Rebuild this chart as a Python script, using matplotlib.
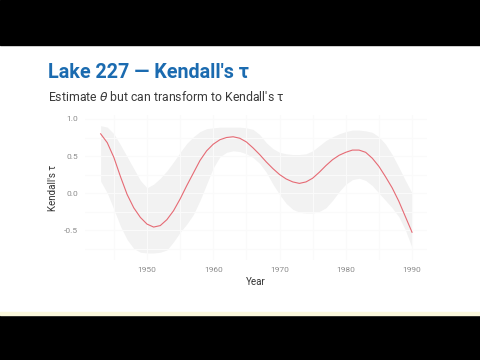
import numpy as np
import matplotlib
matplotlib.use("Agg")
import matplotlib.pyplot as plt
from matplotlib.patches import Rectangle

# smooth of Kendall's tau over time
years = list(range(1943, 1991))
tau_fit = [0.80, 0.68, 0.48, 0.22, -0.02, -0.20, -0.33, -0.42, -0.46, -0.44,
           -0.36, -0.24, -0.08, 0.10, 0.27, 0.44, 0.57, 0.66, 0.72, 0.75,
           0.76, 0.74, 0.69, 0.61, 0.52, 0.42, 0.33, 0.25, 0.19, 0.15,
           0.13, 0.15, 0.20, 0.28, 0.37, 0.45, 0.51, 0.55, 0.58, 0.58,
           0.55, 0.47, 0.36, 0.22, 0.07, -0.11, -0.32, -0.53]
tau_upper = [0.91, 0.89, 0.80, 0.65, 0.49, 0.33, 0.17, 0.07, 0.12, 0.20,
             0.30, 0.42, 0.55, 0.67, 0.76, 0.83, 0.87, 0.88, 0.89, 0.89,
             0.89, 0.89, 0.88, 0.86, 0.79, 0.68, 0.60, 0.55, 0.53, 0.52,
             0.52, 0.53, 0.57, 0.64, 0.71, 0.76, 0.80, 0.83, 0.85, 0.85,
             0.84, 0.82, 0.76, 0.66, 0.52, 0.35, 0.17, 0.00]
tau_lower = [0.16, 0.00, -0.22, -0.45, -0.63, -0.75, -0.80, -0.81, -0.81, -0.80,
             -0.77, -0.66, -0.53, -0.42, -0.29, -0.10, 0.12, 0.34, 0.49, 0.55,
             0.57, 0.56, 0.53, 0.48, 0.40, 0.28, 0.12, -0.02, -0.14, -0.22,
             -0.26, -0.27, -0.27, -0.25, -0.20, -0.10, 0.02, 0.12, 0.18, 0.20,
             0.17, 0.10, 0.00, -0.10, -0.20, -0.32, -0.50, -0.74]
x_ticks = [1950, 1960, 1970, 1980, 1990]
y_ticks = [-0.5, 0.0, 0.5, 1.0]

plt.rcParams['font.family'] = ['Roboto', 'DejaVu Sans']

fig = plt.figure(figsize=(4.8, 3.6), dpi=100)
fig.patch.set_facecolor('white')

# slide frame: black bars top and bottom
fig.patches.append(Rectangle((0, 1 - 45/360), 1, 45/360, transform=fig.transFigure,
                             color='black', zorder=0))
fig.patches.append(Rectangle((0, 0), 1, 45/360, transform=fig.transFigure,
                             color='black', zorder=0))
fig.patches.append(Rectangle((0, 45/360), 1, 3/360, transform=fig.transFigure,
                             color='#fbf8dc', zorder=0))

fig.text(48/480, 1 - 78/360, "Lake 227 \u2014 Kendall's \u03c4", fontsize=14.2,
         fontweight='bold', color='#1b6bb0', va='baseline')
fig.text(48/480, 1 - 101/360, "Estimate $\\theta$ but can transform to Kendall's \u03c4",
         fontsize=8.8, color='#3a3a3a', va='baseline')

ax = fig.add_axes([85/480, 1 - 260/360, 342/480, 145/360])
ax.set_xlim(1940.64, 1992.26)
ax.set_ylim(-0.905, 1.054)

ax.fill_between(years, tau_lower, tau_upper, color='#f2f2f2', lw=0, zorder=1)
ax.plot(years, tau_fit, color='#e66a74', lw=0.8, zorder=3)

ax.set_xticks(x_ticks)
ax.set_yticks(y_ticks)
ax.set_xticks([1945, 1955, 1965, 1975, 1985], minor=True)
ax.set_yticks([-0.75, -0.25, 0.25, 0.75], minor=True)
ax.set_yticklabels(['-0.5', '0.0', '0.5', '1.0'])
ax.grid(True, which='both', color='#fafafa', lw=0.8, zorder=2)
ax.set_axisbelow(False)
ax.tick_params(which='both', length=0, labelsize=6, labelcolor='#8c8c8c', pad=5)
for s in ax.spines.values():
    s.set_visible(False)

ax.set_xlabel('Year', fontsize=7, color='#333333', labelpad=3)
ax.set_ylabel("Kendall's \u03c4", fontsize=7, color='#333333', labelpad=4)

fig.savefig('out.png', dpi=100)
